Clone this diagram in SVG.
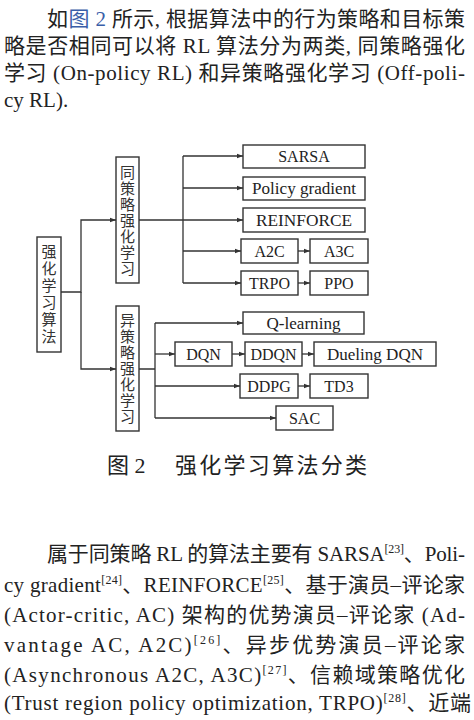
<svg xmlns="http://www.w3.org/2000/svg" width="474" height="720" viewBox="0 0 474 720">
<defs>
<marker id="ah" markerUnits="userSpaceOnUse" markerWidth="7" markerHeight="6" refX="6" refY="3" orient="auto">
<path d="M0,0.8 L6,3 L0,5.2 Z" fill="#333"/>
</marker>
<style>
.para{font-family:"Liberation Serif","Noto Sans CJK SC",serif;font-size:21px;fill:#222}
.box{fill:#fff;stroke:#333;stroke-width:1.4}
.bt{font-family:"Liberation Serif",serif;font-size:16px;fill:#222;text-anchor:middle}
.vt{font-family:"Noto Sans CJK SC",sans-serif;font-size:15px;fill:#333;text-anchor:middle;writing-mode:vertical-rl;letter-spacing:1px}
.cn{fill:none;stroke:#333;stroke-width:1.3}
.ar{marker-end:url(#ah)}
.sup{font-size:12px}
</style>
</defs>
<rect width="474" height="720" fill="#fff"/>

<g id="para-top">
<text class="para" x="47" y="26" textLength="418" lengthAdjust="spacing">如<tspan fill="#3a5ea8">图 2</tspan> 所示, 根据算法中的行为策略和目标策</text>
<text class="para" x="4" y="53" textLength="461" lengthAdjust="spacing">略是否相同可以将 RL 算法分为两类, 同策略强化</text>
<text class="para" x="4" y="80" textLength="461" lengthAdjust="spacing">学习 (On-policy RL) 和异策略强化学习 (Off-poli-</text>
<text class="para" x="4" y="107">cy RL).</text>
</g>

<g id="connectors">
<path class="cn ar" d="M61,292 H81 V220 H116"/>
<path class="cn ar" d="M81,292 V369 H116"/>
<path class="cn" d="M139,220 H183 M183,156 V283"/>
<path class="cn ar" d="M183,156 H243"/>
<path class="cn ar" d="M183,188 H243"/>
<path class="cn ar" d="M183,220 H243"/>
<path class="cn ar" d="M183,251 H241"/>
<path class="cn ar" d="M183,283 H241"/>
<path class="cn ar" d="M298,251 H310"/>
<path class="cn ar" d="M298,283 H310"/>
<path class="cn" d="M139,369 H155 M155,323 V418"/>
<path class="cn ar" d="M155,323 H243"/>
<path class="cn ar" d="M155,354 H175"/>
<path class="cn ar" d="M155,386 H240"/>
<path class="cn ar" d="M155,418 H276"/>
<path class="cn ar" d="M232,354 H245"/>
<path class="cn ar" d="M302,354 H314"/>
<path class="cn ar" d="M298,386 H310"/>
</g>

<g id="root">
<rect class="box" x="37" y="237" width="24" height="115"/>
<text class="vt" x="49" y="295" style="letter-spacing:2px">强化学习算法</text>
</g>

<g id="on-policy">
<rect class="box" x="116" y="157" width="23" height="126"/>
<text class="vt" x="127.5" y="220.5">同策略强化学习</text>
</g>

<g id="off-policy">
<rect class="box" x="116" y="306" width="23" height="125"/>
<text class="vt" x="127.5" y="369">异策略强化学习</text>
</g>

<g id="sarsa"><rect class="box" x="243" y="145" width="122" height="23"/><text class="bt" x="304" y="162">SARSA</text></g>
<g id="policy-gradient"><rect class="box" x="243" y="177" width="122" height="23"/><text class="bt" x="304" y="194" textLength="104" lengthAdjust="spacingAndGlyphs">Policy gradient</text></g>
<g id="reinforce"><rect class="box" x="243" y="208" width="122" height="24"/><text class="bt" x="304" y="225.5" textLength="96" lengthAdjust="spacingAndGlyphs">REINFORCE</text></g>
<g id="a2c"><rect class="box" x="241" y="239" width="57" height="24"/><text class="bt" x="269.5" y="256.5">A2C</text></g>
<g id="a3c"><rect class="box" x="310" y="239" width="58" height="24"/><text class="bt" x="339" y="256.5">A3C</text></g>
<g id="trpo"><rect class="box" x="241" y="271" width="57" height="24"/><text class="bt" x="269.5" y="288.5">TRPO</text></g>
<g id="ppo"><rect class="box" x="310" y="271" width="58" height="24"/><text class="bt" x="339" y="288.5">PPO</text></g>

<g id="q-learning"><rect class="box" x="243" y="312" width="121" height="22"/><text class="bt" x="303.5" y="328.5" textLength="74" lengthAdjust="spacingAndGlyphs">Q-learning</text></g>
<g id="dqn"><rect class="box" x="175" y="342" width="57" height="24"/><text class="bt" x="203.5" y="359.5">DQN</text></g>
<g id="ddqn"><rect class="box" x="245" y="342" width="57" height="24"/><text class="bt" x="273.5" y="359.5">DDQN</text></g>
<g id="dueling-dqn"><rect class="box" x="314" y="342" width="122" height="24"/><text class="bt" x="375" y="359.5" textLength="96" lengthAdjust="spacingAndGlyphs">Dueling DQN</text></g>
<g id="ddpg"><rect class="box" x="240" y="374" width="58" height="24"/><text class="bt" x="269" y="391.5">DDPG</text></g>
<g id="td3"><rect class="box" x="310" y="374" width="58" height="24"/><text class="bt" x="339" y="391.5">TD3</text></g>
<g id="sac"><rect class="box" x="276" y="406" width="57" height="24"/><text class="bt" x="304.5" y="423.5">SAC</text></g>

<g id="caption">
<text class="para" x="107" y="473" style="font-size:22px">图 2</text>
<text class="para" x="175" y="473" style="font-size:22px" textLength="192" lengthAdjust="spacing">强化学习算法分类</text>
</g>

<g id="para-bottom">
<text class="para" x="47" y="561" textLength="418" lengthAdjust="spacing">属于同策略 RL 的算法主要有 SARSA<tspan class="sup" dy="-8">[23]</tspan><tspan dy="8">、Poli-</tspan></text>
<text class="para" x="4" y="592" textLength="461" lengthAdjust="spacing">cy gradient<tspan class="sup" dy="-8">[24]</tspan><tspan dy="8">、REINFORCE</tspan><tspan class="sup" dy="-8">[25]</tspan><tspan dy="8">、基于演员–评论家</tspan></text>
<text class="para" x="4" y="622" textLength="461" lengthAdjust="spacing">(Actor-critic, AC) 架构的优势演员–评论家 (Ad-</text>
<text class="para" x="4" y="652" textLength="461" lengthAdjust="spacing">vantage AC, A2C)<tspan class="sup" dy="-8">[26]</tspan><tspan dy="8">、异步优势演员–评论家</tspan></text>
<text class="para" x="4" y="682" textLength="461" lengthAdjust="spacing">(Asynchronous A2C, A3C)<tspan class="sup" dy="-8">[27]</tspan><tspan dy="8">、信赖域策略优化</tspan></text>
<text class="para" x="4" y="710" textLength="467" lengthAdjust="spacing">(Trust region policy optimization, TRPO)<tspan class="sup" dy="-8">[28]</tspan><tspan dy="8">、近端</tspan></text>
</g>
</svg>
